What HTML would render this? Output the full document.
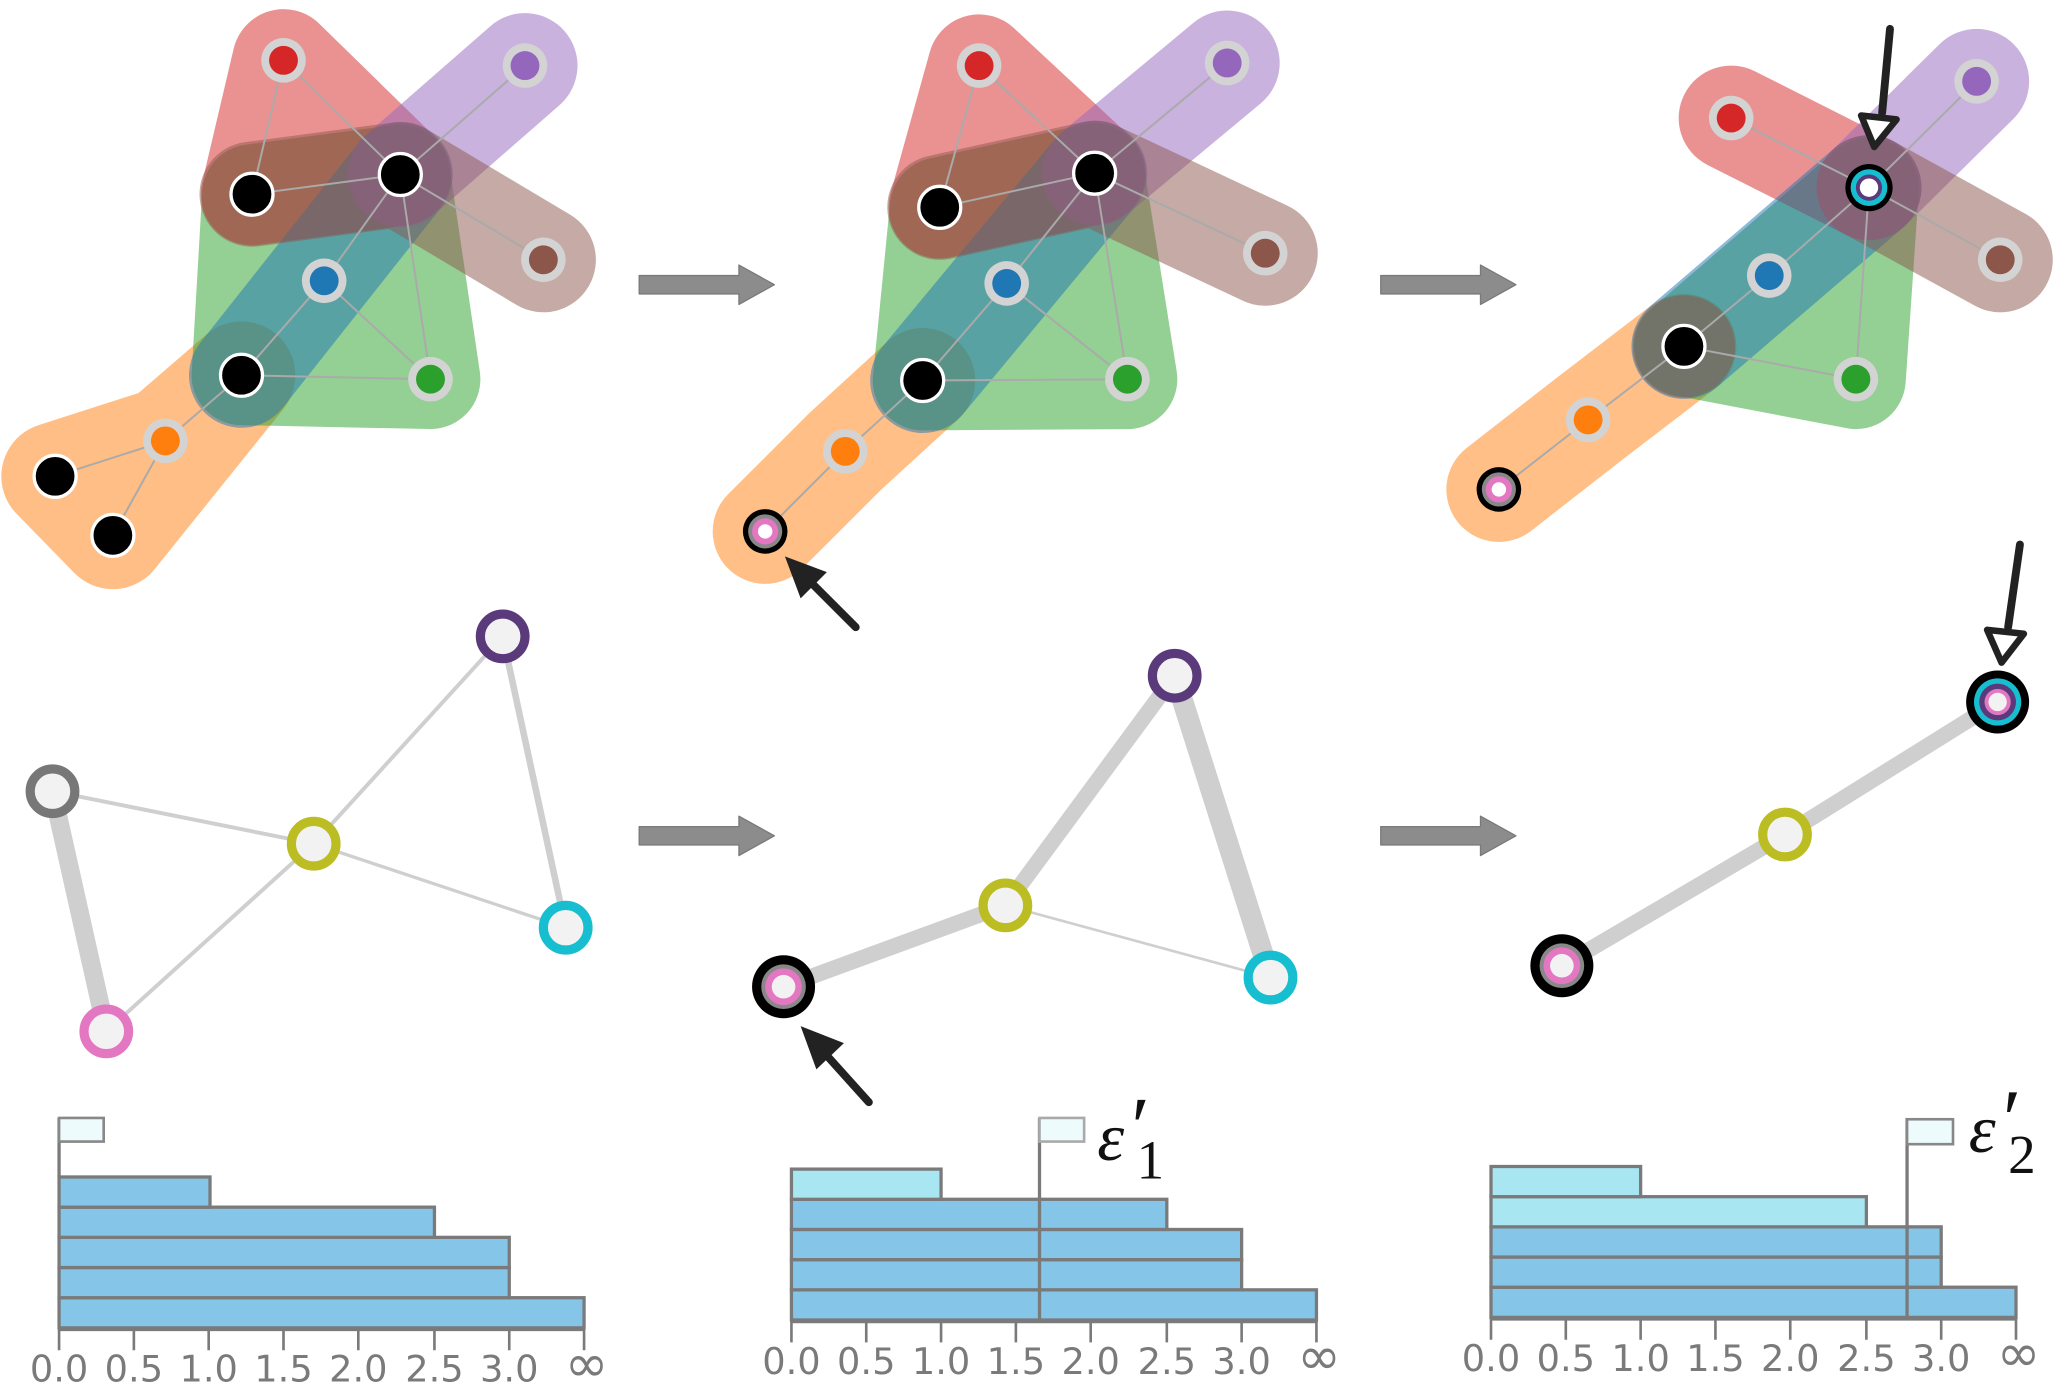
<!DOCTYPE html>
<html><head><meta charset="utf-8"><style>html,body{margin:0;padding:0;background:#fff}svg{display:block}</style></head>
<body>
<svg width="2058" height="1383" viewBox="0 0 1568 1054" preserveAspectRatio="none" xmlns="http://www.w3.org/2000/svg">
<defs>
<g id="garrow"><polygon points="0,-7 76,-7 76,-15 103,0 76,15 76,7 0,7" fill="#8c8c8c" stroke="#7a7a7a" stroke-width="1"/></g>
</defs>
<g stroke-linejoin="round" stroke-linecap="round">
<!-- ===== Panel 1 hypergraph ===== -->
<g opacity="0.5"><polygon points="184,286 126,336 42,363 86,408" fill="#ff7f0e" stroke="#ff7f0e" stroke-width="82"/></g>
<g opacity="0.5"><polygon points="192,148 305,133 328,289 184,286" fill="#2ca02c" stroke="#2ca02c" stroke-width="76"/></g>
<g opacity="0.5"><polygon points="216,46 305,133 192,148" fill="#d62728" stroke="#d62728" stroke-width="78"/></g>
<g opacity="0.5"><line x1="305" y1="133" x2="184" y2="286" stroke="#1f77b4" stroke-width="80"/></g>
<g opacity="0.5"><line x1="400" y1="50" x2="305" y2="133" stroke="#9467bd" stroke-width="80"/></g>
<g opacity="0.5"><polyline points="192,148 305,133 414,198" fill="none" stroke="#8c564b" stroke-width="80"/></g>
<g stroke="#aaa" stroke-width="1.5" fill="none">
<line x1="216" y1="46" x2="192" y2="148"/><line x1="216" y1="46" x2="305" y2="133"/><line x1="400" y1="50" x2="305" y2="133"/>
<line x1="192" y1="148" x2="305" y2="133"/><line x1="305" y1="133" x2="414" y2="198"/><line x1="305" y1="133" x2="247" y2="214"/>
<line x1="305" y1="133" x2="328" y2="289"/><line x1="247" y1="214" x2="184" y2="286"/><line x1="184" y1="286" x2="328" y2="289"/>
<line x1="184" y1="286" x2="126" y2="336"/><line x1="126" y1="336" x2="42" y2="363"/><line x1="126" y1="336" x2="86" y2="408"/><line x1="247" y1="214" x2="328" y2="289"/>
</g>
<g>
<circle cx="216" cy="46" r="17" fill="#d3d3d3"/><circle cx="216" cy="46" r="11" fill="#d62728"/>
<circle cx="400" cy="50" r="17" fill="#d3d3d3"/><circle cx="400" cy="50" r="11" fill="#9467bd"/>
<circle cx="414" cy="198" r="17" fill="#d3d3d3"/><circle cx="414" cy="198" r="11" fill="#8c564b"/>
<circle cx="247" cy="214" r="17" fill="#d3d3d3"/><circle cx="247" cy="214" r="11" fill="#1f77b4"/>
<circle cx="328" cy="289" r="17" fill="#d3d3d3"/><circle cx="328" cy="289" r="11" fill="#2ca02c"/>
<circle cx="126" cy="336" r="17" fill="#d3d3d3"/><circle cx="126" cy="336" r="11" fill="#ff7f0e"/>
<circle cx="192" cy="148" r="16" fill="#000" stroke="#fff" stroke-width="2.5"/>
<circle cx="305" cy="133" r="16" fill="#000" stroke="#fff" stroke-width="2.5"/>
<circle cx="184" cy="286" r="16" fill="#000" stroke="#fff" stroke-width="2.5"/>
<circle cx="42" cy="363" r="16" fill="#000" stroke="#fff" stroke-width="2.5"/>
<circle cx="86" cy="408" r="16" fill="#000" stroke="#fff" stroke-width="2.5"/>
</g>

<!-- ===== Panel 2 hypergraph ===== -->
<g opacity="0.5"><polyline points="703,290 644,344 583,405" fill="none" stroke="#ff7f0e" stroke-width="80"/></g>
<g opacity="0.5"><polygon points="716,158 834,132 859,289 703,290" fill="#2ca02c" stroke="#2ca02c" stroke-width="76"/></g>
<g opacity="0.5"><polygon points="746,50 834,132 716,158" fill="#d62728" stroke="#d62728" stroke-width="78"/></g>
<g opacity="0.5"><line x1="834" y1="132" x2="703" y2="290" stroke="#1f77b4" stroke-width="80"/></g>
<g opacity="0.5"><line x1="935" y1="48" x2="834" y2="132" stroke="#9467bd" stroke-width="80"/></g>
<g opacity="0.5"><polyline points="716,158 834,132 964,193" fill="none" stroke="#8c564b" stroke-width="80"/></g>
<g stroke="#aaa" stroke-width="1.5" fill="none">
<line x1="746" y1="50" x2="716" y2="158"/><line x1="746" y1="50" x2="834" y2="132"/><line x1="935" y1="48" x2="834" y2="132"/>
<line x1="716" y1="158" x2="834" y2="132"/><line x1="834" y1="132" x2="964" y2="193"/><line x1="834" y1="132" x2="767" y2="216"/>
<line x1="834" y1="132" x2="859" y2="289"/><line x1="767" y1="216" x2="703" y2="290"/><line x1="703" y1="290" x2="859" y2="289"/>
<line x1="703" y1="290" x2="644" y2="344"/><line x1="644" y1="344" x2="583" y2="405"/><line x1="767" y1="216" x2="859" y2="289"/>
</g>
<circle cx="746" cy="50" r="17" fill="#d3d3d3"/><circle cx="746" cy="50" r="11" fill="#d62728"/>
<circle cx="935" cy="48" r="17" fill="#d3d3d3"/><circle cx="935" cy="48" r="11" fill="#9467bd"/>
<circle cx="964" cy="193" r="17" fill="#d3d3d3"/><circle cx="964" cy="193" r="11" fill="#8c564b"/>
<circle cx="767" cy="216" r="17" fill="#d3d3d3"/><circle cx="767" cy="216" r="11" fill="#1f77b4"/>
<circle cx="859" cy="289" r="17" fill="#d3d3d3"/><circle cx="859" cy="289" r="11" fill="#2ca02c"/>
<circle cx="644" cy="344" r="17" fill="#d3d3d3"/><circle cx="644" cy="344" r="11" fill="#ff7f0e"/>
<circle cx="716" cy="158" r="16" fill="#000" stroke="#fff" stroke-width="2.5"/>
<circle cx="834" cy="132" r="16" fill="#000" stroke="#fff" stroke-width="2.5"/>
<circle cx="703" cy="290" r="16" fill="#000" stroke="#fff" stroke-width="2.5"/>
<circle cx="583" cy="405" r="17" fill="#000"/><circle cx="583" cy="405" r="13" fill="#888"/><circle cx="583" cy="405" r="10" fill="#e377c2"/><circle cx="583" cy="405" r="5.5" fill="#fff"/>
<line x1="652" y1="478" x2="612" y2="438" stroke="#222" stroke-width="6"/>
<polygon points="598,424 630,436 610,456" fill="#222"/>

<!-- ===== Panel 3 hypergraph ===== -->
<g opacity="0.5"><polyline points="1283,264 1210,320 1142,373" fill="none" stroke="#ff7f0e" stroke-width="80"/></g>
<g opacity="0.5"><polygon points="1424,143 1414,289 1283,264" fill="#2ca02c" stroke="#2ca02c" stroke-width="76"/></g>
<g opacity="0.5"><line x1="1319" y1="90" x2="1424" y2="143" stroke="#d62728" stroke-width="80"/></g>
<g opacity="0.5"><line x1="1424" y1="143" x2="1283" y2="264" stroke="#1f77b4" stroke-width="80"/></g>
<g opacity="0.5"><line x1="1506" y1="62" x2="1424" y2="143" stroke="#9467bd" stroke-width="80"/></g>
<g opacity="0.5"><line x1="1424" y1="143" x2="1524" y2="198" stroke="#8c564b" stroke-width="80"/></g>
<g opacity="0.5"><circle cx="1283" cy="264" r="39" fill="#8c564b"/></g>
<g stroke="#aaa" stroke-width="1.5" fill="none">
<line x1="1319" y1="90" x2="1424" y2="143"/><line x1="1506" y1="62" x2="1424" y2="143"/><line x1="1424" y1="143" x2="1524" y2="198"/>
<line x1="1424" y1="143" x2="1348" y2="210"/><line x1="1424" y1="143" x2="1414" y2="289"/><line x1="1348" y1="210" x2="1283" y2="264"/>
<line x1="1283" y1="264" x2="1414" y2="289"/><line x1="1283" y1="264" x2="1210" y2="320"/><line x1="1210" y1="320" x2="1142" y2="373"/>
</g>
<circle cx="1319" cy="90" r="17" fill="#d3d3d3"/><circle cx="1319" cy="90" r="11" fill="#d62728"/>
<circle cx="1506" cy="62" r="17" fill="#d3d3d3"/><circle cx="1506" cy="62" r="11" fill="#9467bd"/>
<circle cx="1524" cy="198" r="17" fill="#d3d3d3"/><circle cx="1524" cy="198" r="11" fill="#8c564b"/>
<circle cx="1348" cy="210" r="17" fill="#d3d3d3"/><circle cx="1348" cy="210" r="11" fill="#1f77b4"/>
<circle cx="1414" cy="289" r="17" fill="#d3d3d3"/><circle cx="1414" cy="289" r="11" fill="#2ca02c"/>
<circle cx="1210" cy="320" r="17" fill="#d3d3d3"/><circle cx="1210" cy="320" r="11" fill="#ff7f0e"/>
<circle cx="1283" cy="264" r="16" fill="#000" stroke="#fff" stroke-width="2.5"/>
<circle cx="1142" cy="373" r="17" fill="#000"/><circle cx="1142" cy="373" r="13" fill="#888"/><circle cx="1142" cy="373" r="10" fill="#e377c2"/><circle cx="1142" cy="373" r="5.5" fill="#fff"/>
<circle cx="1424" cy="143" r="18" fill="#000"/><circle cx="1424" cy="143" r="14" fill="#17becf"/><circle cx="1424" cy="143" r="10" fill="#5a3a7a"/><circle cx="1424" cy="143" r="7" fill="#fff"/>
<line x1="1440" y1="22" x2="1434" y2="86" stroke="#222" stroke-width="6"/>
<polygon points="1428,112 1418,88 1445,91" fill="#fff" stroke="#222" stroke-width="5"/>

<!-- gray arrows -->
<use href="#garrow" x="487" y="217"/><use href="#garrow" x="1052" y="217"/>
<use href="#garrow" x="487" y="637"/><use href="#garrow" x="1052" y="637"/>

<!-- ===== Row 2 graphs ===== -->
<g stroke="#cfcfcf" fill="none">
<line x1="40" y1="603" x2="81" y2="786" stroke-width="14"/>
<line x1="40" y1="603" x2="239" y2="643" stroke-width="3"/>
<line x1="239" y1="643" x2="81" y2="786" stroke-width="3"/>
<line x1="239" y1="643" x2="383" y2="485" stroke-width="3"/>
<line x1="239" y1="643" x2="431" y2="707" stroke-width="2.5"/>
<line x1="383" y1="485" x2="431" y2="707" stroke-width="5"/>
<line x1="895" y1="515" x2="766" y2="690" stroke-width="12"/>
<line x1="895" y1="515" x2="968" y2="745" stroke-width="16"/>
<line x1="766" y1="690" x2="597" y2="752" stroke-width="12"/>
<line x1="766" y1="690" x2="968" y2="745" stroke-width="2"/>
<line x1="1522" y1="535" x2="1360" y2="636" stroke-width="12"/>
<line x1="1360" y1="636" x2="1190" y2="736" stroke-width="12"/>
</g>
<g fill="#f2f2f2" stroke-width="7">
<circle cx="40" cy="603" r="17" stroke="#777"/>
<circle cx="239" cy="643" r="17" stroke="#bcbd22"/>
<circle cx="383" cy="485" r="17" stroke="#5a3a7a"/>
<circle cx="431" cy="707" r="17" stroke="#17becf"/>
<circle cx="81" cy="786" r="17" stroke="#e377c2"/>
<circle cx="895" cy="515" r="17" stroke="#5a3a7a"/>
<circle cx="766" cy="690" r="17" stroke="#bcbd22"/>
<circle cx="968" cy="745" r="17" stroke="#17becf"/>
<circle cx="1360" cy="636" r="17" stroke="#bcbd22"/>
</g>
<circle cx="597" cy="752" r="24" fill="#000"/><circle cx="597" cy="752" r="17" fill="#888"/><circle cx="597" cy="752" r="14" fill="#e377c2"/><circle cx="597" cy="752" r="9" fill="#f2f2f2"/>
<circle cx="1190" cy="736" r="24" fill="#000"/><circle cx="1190" cy="736" r="17" fill="#888"/><circle cx="1190" cy="736" r="14" fill="#e377c2"/><circle cx="1190" cy="736" r="9" fill="#f2f2f2"/>
<circle cx="1522" cy="535" r="24" fill="#000"/><circle cx="1522" cy="535" r="18" fill="#17becf"/><circle cx="1522" cy="535" r="14" fill="#5a3a7a"/><circle cx="1522" cy="535" r="10" fill="#e377c2"/><circle cx="1522" cy="535" r="7" fill="#f2f2f2"/>
<line x1="662" y1="840" x2="626" y2="800" stroke="#222" stroke-width="6"/>
<polygon points="610,782 643,795 622,815" fill="#222"/>
<line x1="1539" y1="415" x2="1530" y2="478" stroke="#222" stroke-width="6"/>
<polygon points="1525,505 1514,480 1542,483" fill="#fff" stroke="#222" stroke-width="5"/>
</g>

<!-- ===== Histograms ===== -->
<g stroke="#7a7a7a" stroke-width="2.5">
<rect x="45" y="989" width="400" height="23" fill="#85c5e8"/>
<rect x="45" y="966" width="343" height="23" fill="#85c5e8"/>
<rect x="45" y="943" width="343" height="23" fill="#85c5e8"/>
<rect x="45" y="920" width="286" height="23" fill="#85c5e8"/>
<rect x="45" y="897" width="115" height="23" fill="#85c5e8"/>
<line x1="45" y1="852" x2="45" y2="897"/>
<rect x="45" y="852" width="34" height="18" fill="#eefbfd" stroke="#888" stroke-width="2"/>
<line x1="45" y1="1013" x2="445" y2="1013" stroke-width="3"/>
<rect x="603" y="983" width="400" height="23" fill="#85c5e8"/>
<rect x="603" y="960" width="343" height="23" fill="#85c5e8"/>
<rect x="603" y="937" width="343" height="23" fill="#85c5e8"/>
<rect x="603" y="914" width="286" height="23" fill="#85c5e8"/>
<rect x="603" y="891" width="114" height="23" fill="#a8e6f2"/>
<line x1="792" y1="852" x2="792" y2="1006"/>
<rect x="792" y="852" width="34" height="18" fill="#eefbfd" stroke="#aaa" stroke-width="2"/>
<line x1="603" y1="1007" x2="1003" y2="1007" stroke-width="3"/>
<rect x="1136" y="981" width="400" height="23" fill="#85c5e8"/>
<rect x="1136" y="958" width="343" height="23" fill="#85c5e8"/>
<rect x="1136" y="935" width="343" height="23" fill="#85c5e8"/>
<rect x="1136" y="912" width="286" height="23" fill="#a8e6f2"/>
<rect x="1136" y="889" width="114" height="23" fill="#a8e6f2"/>
<line x1="1453" y1="852" x2="1453" y2="1004"/>
<rect x="1453" y="853" width="35" height="19" fill="#eefbfd" stroke="#888" stroke-width="2"/>
<line x1="1136" y1="1005" x2="1536" y2="1005" stroke-width="3"/>
</g>
<g stroke="#7a7a7a" stroke-width="2">
<path d="M45 1013v16M102 1013v16M159 1013v16M216 1013v16M273 1013v16M331 1013v16M388 1013v16M445 1013v16"/>
<path d="M603 1007v16M660 1007v16M717 1007v16M774 1007v16M831 1007v16M889 1007v16M946 1007v16M1003 1007v16"/>
<path d="M1136 1005v16M1193 1005v16M1250 1005v16M1307 1005v16M1364 1005v16M1422 1005v16M1479 1005v16M1536 1005v16"/>
</g>
<g font-family="'DejaVu Sans','Liberation Sans',sans-serif" font-size="28" fill="#7a7a7a" text-anchor="middle">
<text x="45" y="1053">0.0</text><text x="102" y="1053">0.5</text><text x="159" y="1053">1.0</text><text x="216" y="1053">1.5</text><text x="273" y="1053">2.0</text><text x="331" y="1053">2.5</text><text x="388" y="1053">3.0</text><text x="447" y="1053" font-size="40">∞</text>
<text x="603" y="1047">0.0</text><text x="660" y="1047">0.5</text><text x="717" y="1047">1.0</text><text x="774" y="1047">1.5</text><text x="831" y="1047">2.0</text><text x="889" y="1047">2.5</text><text x="946" y="1047">3.0</text><text x="1005" y="1047" font-size="40">∞</text>
<text x="1136" y="1045">0.0</text><text x="1193" y="1045">0.5</text><text x="1250" y="1045">1.0</text><text x="1307" y="1045">1.5</text><text x="1364" y="1045">2.0</text><text x="1422" y="1045">2.5</text><text x="1479" y="1045">3.0</text><text x="1538" y="1045" font-size="40">∞</text>
</g>
<g font-family="'Liberation Serif','DejaVu Serif',serif" fill="#111">
<text x="836" y="884" font-size="52" font-style="italic">ε</text><text x="862" y="880" font-size="64">′</text><text x="866" y="898" font-size="42">1</text>
<text x="1500" y="878" font-size="52" font-style="italic">ε</text><text x="1526" y="874" font-size="64">′</text><text x="1530" y="894" font-size="42">2</text>
</g>
</svg>
</body></html>
